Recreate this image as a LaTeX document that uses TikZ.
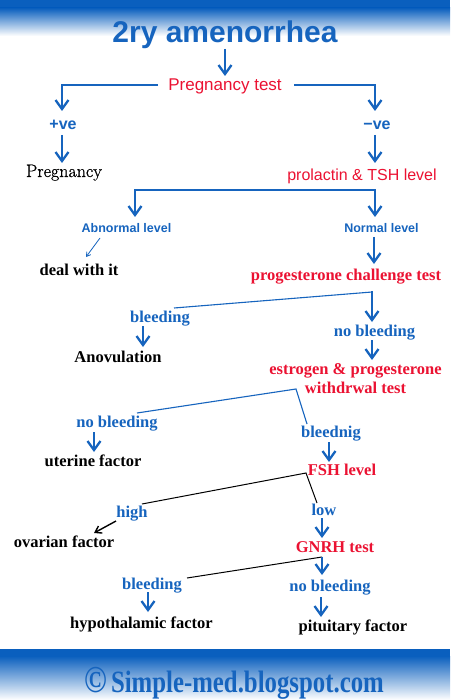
\documentclass[tikz,border=0pt]{standalone}
\usepackage{fontspec}
\setmainfont{Liberation Serif}
\setsansfont{Liberation Sans}
\newfontfamily\lmfont[FakeBold=0.8]{Latin Modern Roman}
\usetikzlibrary{arrows.meta}
\definecolor{mblue}{RGB}{22,100,190}
\definecolor{bandblue}{RGB}{10,95,190}
\definecolor{mred}{RGB}{235,18,50}
\begin{document}
\begin{tikzpicture}[x=1pt,y=-1pt,
  lbl/.style={inner sep=0pt, outer sep=0pt, anchor=base},
  ttl/.style={lbl, text=mblue, font=\sffamily\bfseries\fontsize{30}{32}\selectfont},
  sred/.style={lbl, text=mred, font=\sffamily\fontsize{17}{20}\selectfont},
  sblue/.style={lbl, text=mblue, font=\sffamily\bfseries\fontsize{16}{19}\selectfont},
  sbluesm/.style={lbl, text=mblue, font=\sffamily\bfseries\fontsize{12.5}{15}\selectfont},
  rred/.style={lbl, text=mred, font=\rmfamily\bfseries\fontsize{16.5}{19}\selectfont},
  rblue/.style={lbl, text=mblue, font=\rmfamily\bfseries\fontsize{16.5}{19}\selectfont},
  rblk/.style={lbl, text=black, font=\rmfamily\bfseries\fontsize{16.5}{19}\selectfont},
  plain/.style={lbl, text=black, font=\lmfont\fontsize{18}{20}\selectfont},
  foot/.style={lbl, text=mblue, font=\rmfamily\bfseries\fontsize{31}{34}\selectfont},
  barrow/.style={mblue, line width=2.3pt, -{Straight Barb[length=9pt,width=13pt]}},
  thinb/.style={mblue, line width=1.1pt},
  thinarrow/.style={mblue, line width=0.8pt, -{Straight Barb[length=4pt,width=5pt]}},
  blk/.style={black, line width=1pt},
  blkarrow/.style={black, line width=1.4pt, -{Straight Barb[length=6pt,width=8pt]}}
]
\fill[white] (0,0) rectangle (450,700);
\useasboundingbox (0,0) rectangle (450,700);
% bands
\fill[bandblue] (0,0) rectangle (450,8);
\shade[top color=bandblue, bottom color=white] (0,8) rectangle (450,36);
\fill[bandblue] (0,649) rectangle (450,656);
\shade[top color=bandblue, bottom color=white] (0,656) rectangle (450,700);

% nodes
\node[ttl] (title) at (225,43) {2ry amenorrhea};
\node[sred] (preg) at (225,91) {Pregnancy test};
\node[sblue] (pos) at (63,130) {+ve};
\node[sblue] (neg) at (377,130) {−ve};
\node[plain] (pregn) at (64,177) {Pregnancy};
\node[sred, font=\sffamily\fontsize{16}{19}\selectfont] (prl) at (362,181) {prolactin \& TSH level};
\node[sbluesm] (abn) at (126.5,233) {Abnormal level};
\node[sbluesm] (nrm) at (381.5,233) {Normal level};
\node[rblk] (deal) at (79,275) {deal with it};
\node[rred] (pct) at (346,280) {progesterone challenge test};
\node[rblue] (bl1) at (160,322) {bleeding};
\node[rblk] (anov) at (118,362) {Anovulation};
\node[rblue] (nb1) at (374.5,336) {no bleeding};
\node[rred, align=center] (est) at (355.5,393) {estrogen \& progesterone\\withdrwal test};
\node[rblue] (nb2) at (117,427) {no bleeding};
\node[rblk] (ut) at (93,466) {uterine factor};
\node[rblue] (bln) at (331,437) {bleednig};
\node[rred] (fsh) at (342,475) {FSH level};
\node[rblue] (high) at (132,517) {high};
\node[rblk] (ova) at (64,547) {ovarian factor};
\node[rblue] (low) at (324,515) {low};
\node[rred] (gnrh) at (335,552) {GNRH test};
\node[rblue] (bl3) at (152,589) {bleeding};
\node[rblk] (hyp) at (141.5,628) {hypothalamic factor};
\node[rblue] (nb3) at (330,591) {no bleeding};
\node[rblk] (pit) at (353,631) {pituitary factor};
\node[foot] (foot) at (234,692) {\scalebox{0.8}[1]{{\fontsize{38}{38}\selectfont ©}\,Simple-med.blogspot.com}};

% corner coordinates
\coordinate (cL) at (62,85);
\coordinate (cR) at (375,85);
\coordinate (cPL) at (135,190);
\coordinate (cPR) at (375,190);
\coordinate (cPC) at (372,292);
\coordinate (cE) at (296,389);
\coordinate (cF) at (306,473);
\coordinate (cG) at (322,557);

% connectors
\draw[barrow] ([shift={(0,6)}]title.base) -- ([shift={(0,-15)}]preg.base);
\draw[thinb] ([shift={(-67,-6)}]preg.base) -- (cL);
\draw[thinb] ([shift={(69,-6)}]preg.base) -- (cR);
\draw[barrow] ([shift={(0,-0.6)}]cL) -- ([shift={(-1,-19)}]pos.base);
\draw[barrow] ([shift={(0,-0.6)}]cR) -- ([shift={(-2,-19)}]neg.base);
\draw[barrow] ([shift={(-1,5)}]pos.base) -- ([shift={(-2,-14)}]pregn.base);
\draw[barrow] ([shift={(-2,5)}]neg.base) -- ([shift={(13,-18)}]prl.base);
\draw[thinb] (cPL) -- (cPR);
\draw[barrow] ([shift={(0,-0.6)}]cPL) -- ([shift={(8.5,-16)}]abn.base);
\draw[barrow] ([shift={(0,-0.6)}]cPR) -- ([shift={(-6.5,-16)}]nrm.base);
\draw[thinarrow] ([shift={(-26.5,5)}]abn.base) -- ([shift={(7,-18)}]deal.base);
\draw[barrow] ([shift={(-7.5,4)}]nrm.base) -- ([shift={(28,-16)}]pct.base);
\draw[thinb] ([shift={(14,-14)}]bl1.base) -- (cPC);
\draw[barrow] ([shift={(0,-0.6)}]cPC) -- ([shift={(-2.5,-14)}]nb1.base);
\draw[barrow] ([shift={(-17,4)}]bl1.base) -- ([shift={(25,-15)}]anov.base);
\draw[barrow] ([shift={(-2.5,4)}]nb1.base) -- ([shift={(16.5,-33)}]est.base);
\draw[thinb] ([shift={(20,-14)}]nb2.base) -- (cE) -- ([shift={(-24,-13)}]bln.base);
\draw[barrow] ([shift={(-23,5)}]nb2.base) -- ([shift={(1,-14)}]ut.base);
\draw[barrow] ([shift={(-2,5)}]bln.base) -- ([shift={(-13,-13)}]fsh.base);
\draw[blk] ([shift={(10,-13)}]high.base) -- (cF) -- ([shift={(-7,-12)}]low.base);
\draw[blkarrow] ([shift={(-16,4)}]high.base) -- ([shift={(30,-14)}]ova.base);
\draw[barrow] ([shift={(-2,3)}]low.base) -- ([shift={(-13,-14)}]gnrh.base);
\draw[blk] ([shift={(35,-11)}]bl3.base) -- (cG);
\draw[barrow] ([shift={(0,-0.5)}]cG) -- ([shift={(-8,-16)}]nb3.base);
\draw[barrow] ([shift={(-4,3)}]bl3.base) -- ([shift={(6.5,-16)}]hyp.base);
\draw[barrow] ([shift={(-9,6)}]nb3.base) -- ([shift={(-32,-14)}]pit.base);
\end{tikzpicture}
\end{document}
